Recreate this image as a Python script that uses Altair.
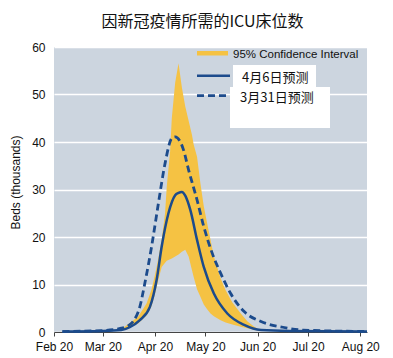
import altair as alt
import pandas as pd

# ---------------- data ----------------
apr6_dates = ["2020-02-06", "2020-03-01", "2020-03-12", "2020-03-17", "2020-03-23", "2020-03-29",
              "2020-04-02", "2020-04-05", "2020-04-09", "2020-04-13", "2020-04-15", "2020-04-17",
              "2020-04-19", "2020-04-22", "2020-04-26", "2020-04-30", "2020-05-06", "2020-05-14",
              "2020-05-24", "2020-06-03", "2020-06-20", "2020-08-05"]
apr6_values = [0.1, 0.2, 0.4, 1.0, 2.5, 5.3,
               11.0, 18.0, 25.0, 28.8, 29.3, 29.5,
               28.7, 25.7, 19.4, 13.7, 8.1, 3.9,
               1.5, 0.4, 0.2, 0.1]

mar31_dates = ["2020-02-06", "2020-03-01", "2020-03-12", "2020-03-16", "2020-03-19", "2020-03-23",
               "2020-03-26", "2020-03-30", "2020-04-03", "2020-04-07", "2020-04-11", "2020-04-13",
               "2020-04-18", "2020-04-21", "2020-04-26", "2020-04-30", "2020-05-05", "2020-05-10",
               "2020-05-16", "2020-05-24", "2020-06-03", "2020-06-16", "2020-06-28", "2020-08-05"]
mar31_values = [0.1, 0.3, 0.8, 1.3, 2.2, 5.3,
                10.3, 18.0, 27.0, 35.5, 40.8, 41.1,
                38.3, 34.1, 27.8, 22.2, 16.6, 12.4,
                8.1, 4.3, 2.2, 1.0, 0.4, 0.1]

ci_dates = ["2020-03-12", "2020-03-22", "2020-03-27", "2020-03-30", "2020-04-01", "2020-04-03",
            "2020-04-05", "2020-04-07", "2020-04-08", "2020-04-10", "2020-04-11", "2020-04-13",
            "2020-04-15", "2020-04-17", "2020-04-19", "2020-04-21", "2020-04-23", "2020-04-24",
            "2020-04-26", "2020-04-28", "2020-04-30", "2020-05-02", "2020-05-04", "2020-05-06",
            "2020-05-10", "2020-05-13", "2020-05-17", "2020-05-22", "2020-05-26", "2020-05-30",
            "2020-06-03"]
ci_lower = [0.3, 1.8, 3.5, 5.5, 8.0, 11.0,
            13.7, 14.6, 15.0, 15.3, 15.5, 15.9,
            16.3, 16.9, 17.3, 15.9, 13.0, 11.6,
            9.0, 7.4, 5.8, 4.8, 3.9, 3.3,
            2.5, 2.0, 1.6, 1.1, 0.8, 0.5,
            0.2]
ci_upper = [0.6, 3.2, 6.0, 9.0, 12.0, 15.5,
            19.5, 25.0, 30.6, 38.0, 45.0, 52.5,
            56.6, 51.5, 47.5, 44.5, 41.5, 39.5,
            36.9, 31.3, 26.5, 22.9, 19.5, 15.9,
            11.3, 8.8, 6.2, 3.9, 2.2, 1.1,
            0.3]

y_ticks = [0, 10, 20, 30, 40, 50, 60]
title_text = "因新冠疫情所需的ICU床位数"
y_title = "Beds (thousands)"
legend_labels = ["95% Confidence Interval", "4月6日预测", "3月31日预测"]

# ---------------- styling ----------------
BG = "#CCD5DF"
YELLOW = "#F5C243"
BLUE = "#1C4B8C"
FONT = "Liberation Sans"
CJK = "Noto Sans CJK SC"

apr6 = pd.DataFrame({"date": [d + "T00:00:00" for d in apr6_dates], "value": apr6_values})
mar31 = pd.DataFrame({"date": [d + "T00:00:00" for d in mar31_dates], "value": mar31_values})
ci = pd.DataFrame({"date": [d + "T00:00:00" for d in ci_dates], "lower": ci_lower, "upper": ci_upper})
one = pd.DataFrame({"k": [0]})

x_scale = alt.Scale(domain=[alt.DateTime(year=2020, month=2, date=1),
                            alt.DateTime(year=2020, month=8, date=5)])
y_scale = alt.Scale(domain=[0, 60], nice=False)

x_axis = alt.Axis(format="%b %y", tickCount={"interval": "month", "step": 1}, grid=False,
                  title=None, labelFlush=False, labelOverlap=False, domainColor="#444444",
                  tickColor="#444444", tickSize=4, labelPadding=5, labelFont=FONT,
                  labelFontSize=12, labelColor="#111111")
y_axis = alt.Axis(values=y_ticks, grid=True, gridColor="white", gridWidth=1.5, domain=False,
                  ticks=False, labelPadding=9, labelFont=FONT, labelFontSize=12,
                  labelColor="#111111", title=y_title, titleFont=FONT, titleFontSize=12,
                  titleFontWeight="normal", titleColor="#111111", titleX=-39, titleY=135,
                  titleAngle=270, titleBaseline="middle", titleAlign="center")

band = alt.Chart(ci).mark_area(color=YELLOW, opacity=1, interpolate="linear").encode(
    x=alt.X("date:T", scale=x_scale, axis=x_axis),
    y=alt.Y("lower:Q", scale=y_scale, axis=y_axis),
    y2="upper:Q",
)
line_apr6 = alt.Chart(apr6).mark_line(color=BLUE, strokeWidth=2.5, interpolate="monotone").encode(
    x="date:T", y="value:Q")
line_mar31 = alt.Chart(mar31).mark_line(color=BLUE, strokeWidth=2.8, strokeDash=[7, 4],
                                         interpolate="monotone").encode(x="date:T", y="value:Q")

# ---------------- legend (drawn in the upper right of the plot) ----------------
white_box1 = alt.Chart(one).mark_rect(color="white").encode(
    x=alt.value(179), x2=alt.value(262), y=alt.value(18), y2=alt.value(41))
white_box2 = alt.Chart(one).mark_rect(color="white").encode(
    x=alt.value(176), x2=alt.value(276), y=alt.value(40), y2=alt.value(81))
sw_ci = alt.Chart(one).mark_rect(color=YELLOW).encode(
    x=alt.value(143), x2=alt.value(174), y=alt.value(4), y2=alt.value(8.5))
sw_apr6 = alt.Chart(one).mark_rule(color=BLUE, strokeWidth=2.5).encode(
    x=alt.value(143), x2=alt.value(176), y=alt.value(28.7))
sw_mar31 = alt.Chart(one).mark_rule(color=BLUE, strokeWidth=2.8, strokeDash=[7, 4]).encode(
    x=alt.value(143), x2=alt.value(176), y=alt.value(48.7))
lab_ci = alt.Chart(one).mark_text(align="left", baseline="middle", font=FONT, fontSize=11.5,
                                  color="#111111").encode(
    x=alt.value(179), y=alt.value(8), text=alt.value(legend_labels[0]))
lab_apr6 = alt.Chart(one).mark_text(align="left", baseline="middle", font=CJK, fontSize=13,
                                    color="#111111").encode(
    x=alt.value(188), y=alt.value(31), text=alt.value(legend_labels[1]))
lab_mar31 = alt.Chart(one).mark_text(align="left", baseline="middle", font=CJK, fontSize=13,
                                     color="#111111").encode(
    x=alt.value(186), y=alt.value(51), text=alt.value(legend_labels[2]))

chart = alt.layer(
    band, line_apr6, line_mar31,
    white_box1, white_box2, sw_ci, sw_apr6, sw_mar31, lab_ci, lab_apr6, lab_mar31,
).properties(
    width=313, height=285,
    title=alt.TitleParams(title_text, font=CJK, fontSize=16, fontWeight="normal",
                          color="#111111", anchor="middle", dx=-8, offset=11, frame="group"),
    autosize="none",
    padding={"left": 46, "top": 39, "right": 18, "bottom": 26},
).configure_view(fill=BG, strokeWidth=0)

chart.save("out.html", embed_options={"renderer": "svg", "actions": False})
